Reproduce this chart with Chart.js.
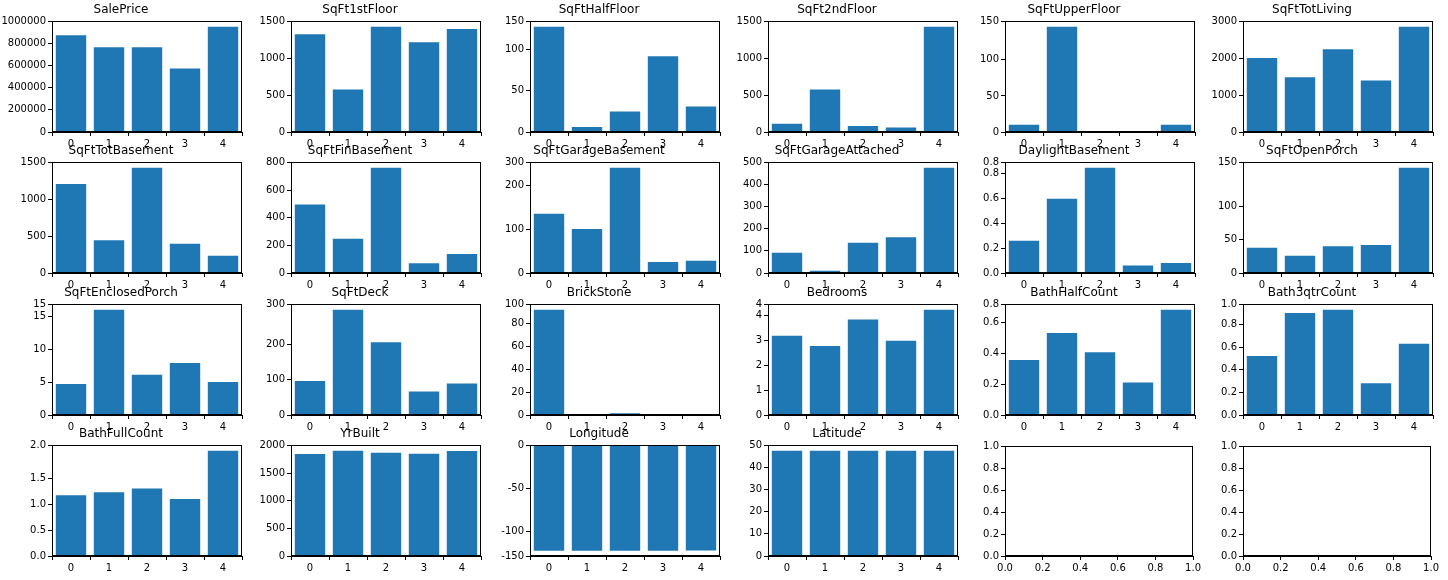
<!DOCTYPE html>
<html><head><meta charset="utf-8">
<script src="https://cdn.jsdelivr.net/npm/chart.js@4.4.0/dist/chart.umd.min.js"></script>
<style>body{margin:0;background:#fff;width:1448px;height:580px;position:relative;overflow:hidden}
.c{position:absolute}</style></head><body>
<script>
const categories = ["0","1","2","3","4"];
const titles = ["SalePrice","SqFt1stFloor","SqFtHalfFloor","SqFt2ndFloor","SqFtUpperFloor","SqFtTotLiving",
"SqFtTotBasement","SqFtFinBasement","SqFtGarageBasement","SqFtGarageAttached","DaylightBasement","SqFtOpenPorch",
"SqFtEnclosedPorch","SqFtDeck","BrickStone","Bedrooms","BathHalfCount","Bath3qtrCount",
"BathFullCount","YrBuilt","Longitude","Latitude"];
const SalePrice=[800000,700000,700000,525000,870000];
const SqFt1stFloor=[1310,570,1410,1200,1380];
const SqFtHalfFloor=[128,6,25,92,31];
const SqFt2ndFloor=[110,560,80,60,1390];
const SqFtUpperFloor=[10,146,0,0,10];
const SqFtTotLiving=[2070,1530,2320,1440,2950];
const SqFtTotBasement=[1030,380,1220,340,200];
const SqFtFinBasement=[520,260,800,75,145];
const SqFtGarageBasement=[135,100,240,25,28];
const SqFtGarageAttached=[90,10,135,160,470];
const DaylightBasement=[0.26,0.6,0.85,0.06,0.08];
const SqFtOpenPorch=[38,26,40,42,158];
const SqFtEnclosedPorch=[4.7,16,6.1,7.9,5.0];
const SqFtDeck=[97,300,207,67,90];
const BrickStone=[92,0.3,1.5,0.5,0.5];
const Bedrooms=[3.2,2.78,3.85,3.0,4.25];
const BathHalfCount=[0.355,0.53,0.405,0.21,0.68];
const Bath3qtrCount=[0.52,0.9,0.93,0.28,0.63];
const BathFullCount=[1.17,1.23,1.3,1.1,2.03];
const YrBuilt=[1940,2005,1965,1945,2000];
const Longitude=[-122.3,-122.2,-122.3,-122.2,-122.1];
const Latitude=[47.5,47.5,47.5,47.5,47.5];
const series=[SalePrice,SqFt1stFloor,SqFtHalfFloor,SqFt2ndFloor,SqFtUpperFloor,SqFtTotLiving,
SqFtTotBasement,SqFtFinBasement,SqFtGarageBasement,SqFtGarageAttached,DaylightBasement,SqFtOpenPorch,
SqFtEnclosedPorch,SqFtDeck,BrickStone,Bedrooms,BathHalfCount,Bath3qtrCount,BathFullCount,YrBuilt,Longitude,Latitude];
const steps=[200000,500,50,500,50,1000,500,200,100,100,0.2,50,5,100,20,1,0.2,0.2,0.5,500,50,10];
const emptyTicks=[0,0.2,0.4,0.6,0.8,1.0];

const LEFTS=[52,291,530,768,1005,1243], TOPS=[22,163,305,446], W=190, H=110;
const PADL=52, PADT=21, PADB=22, PADR=8;
const font={family:"DejaVu Sans",size:10};
const frame={id:'frame',afterDraw(c){const a=c.chartArea,x=c.ctx;x.save();x.strokeStyle='#000';x.lineWidth=1;
x.strokeRect(Math.round(a.left)+0.5,Math.round(a.top)+0.5,Math.round(a.right-a.left)-1,Math.round(a.bottom-a.top)-1);x.restore();}};
function fitY(s){s.width=PADL;} function fitX(s){s.height=PADB;}
function axisCommon(){return {grid:{drawOnChartArea:false,drawTicks:true,tickLength:4,color:'#000'},border:{display:true,color:'#000'},
 ticks:{color:'#000',font,padding:2}};}
for(let i=0;i<24;i++){
  const r=Math.floor(i/6), col=i%6;
  const d=document.createElement('div'); d.className='c';
  d.style.left=(LEFTS[col]-PADL)+'px'; d.style.top=(TOPS[r]-PADT)+'px';
  d.style.width=(W+PADL+PADR)+'px'; d.style.height=(H+PADT+PADB)+'px';
  const cv=document.createElement('canvas'); d.appendChild(cv); document.body.appendChild(d);
  let cfg;
  if(i<22){
    const v=series[i]; const mx=Math.max(...v), mn=Math.min(...v);
    const ymax=mx>0?mx*1.05:0, ymin=mn<0?mn*1.05:0;
    const y=axisCommon(); Object.assign(y,{min:ymin,max:ymax,afterFit:fitY}); y.ticks.stepSize=steps[i];
    y.ticks.callback=function(val){return (Math.round(val/steps[i])*steps[i]).toFixed(steps[i]<1?1:0)};
    const x=axisCommon(); Object.assign(x,{afterFit:fitX});
    cfg={type:'bar',data:{labels:categories,datasets:[{data:v,backgroundColor:'#1f77b4',barPercentage:0.8,categoryPercentage:1}]},
      options:{animation:false,responsive:true,maintainAspectRatio:false,layout:{padding:{top:0,right:PADR,left:0,bottom:0}},
      plugins:{legend:{display:false},tooltip:{enabled:false},title:{display:true,text:titles[i],color:'#000',font:{family:"DejaVu Sans",size:12,weight:'normal'},padding:{top:2,bottom:4}}},
      scales:{x,y}},plugins:[frame]};
  } else {
    const y=axisCommon(); Object.assign(y,{type:'linear',min:0,max:1,afterFit:fitY,afterBuildTicks(s){s.ticks=emptyTicks.map(v=>({value:v}));}});
    y.ticks.callback=v=>v.toFixed(1);
    const x=axisCommon(); Object.assign(x,{type:'linear',min:0,max:1,afterFit:fitX,afterBuildTicks(s){s.ticks=emptyTicks.map(v=>({value:v}));}});
    x.ticks.callback=v=>v.toFixed(1); x.ticks.maxRotation=0;
    cfg={type:'scatter',data:{datasets:[{data:[]}]},
      options:{animation:false,responsive:true,maintainAspectRatio:false,layout:{padding:{top:PADT,right:PADR}},
      plugins:{legend:{display:false},tooltip:{enabled:false}},scales:{x,y}},plugins:[frame]};
  }
  new Chart(cv,cfg);
}
</script></body></html>
